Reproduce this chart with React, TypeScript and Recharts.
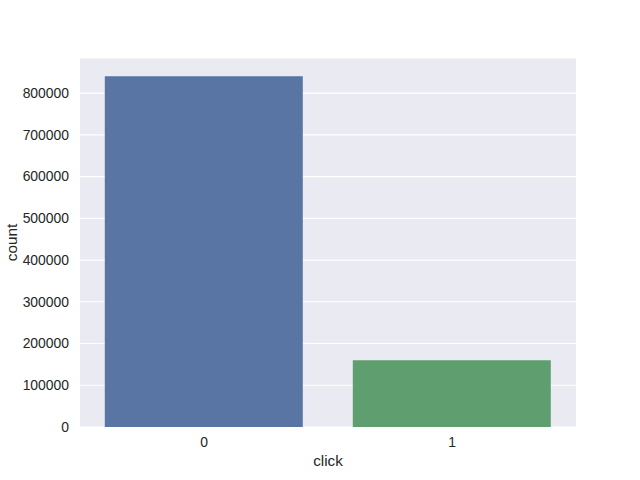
import { BarChart, Bar, XAxis, YAxis, CartesianGrid, Cell } from 'recharts'

const categories = ['0', '1']
const counts = [840300, 159700]
const barColors = ['#5975A4', '#5F9E6E']
const yTicks = [0, 100000, 200000, 300000, 400000, 500000, 600000, 700000, 800000]

const data = categories.map((c, i) => ({ click: c, count: counts[i] }))

const tickStyle = { fontSize: 13.9, fill: '#262626', fontFamily: '"Liberation Sans", Arial, sans-serif' }
const labelStyle = { fontSize: 15.3, fill: '#262626', fontFamily: '"Liberation Sans", Arial, sans-serif' }

export default function App() {
  return (
    <div style={{ position: 'absolute', left: 0, top: 0, width: 640, height: 480, background: '#fff' }}>
      <BarChart
        width={640}
        height={480}
        data={data}
        margin={{ top: 58, right: 64, bottom: 0, left: 0 }}
        barCategoryGap="10%"
      >
        <CartesianGrid vertical={false} stroke="#ffffff" strokeWidth={1.2} fill="#EAEAF2" fillOpacity={1} />
        <XAxis
          dataKey="click"
          height={53}
          axisLine={false}
          tickLine={false}
          tickSize={0}
          tickMargin={10}
          tick={tickStyle}
          label={{ value: 'click', position: 'insideBottom', offset: 14, style: labelStyle }}
        />
        <YAxis
          width={80}
          domain={[0, 884000]}
          ticks={yTicks}
          axisLine={false}
          tickLine={false}
          tickSize={0}
          tickMargin={11}
          tick={tickStyle}
          label={{ value: 'count', angle: -90, position: 'insideLeft', offset: 12, style: { ...labelStyle, textAnchor: 'middle' } }}
        />
        <Bar dataKey="count" isAnimationActive={false}>
          {data.map((d, i) => (
            <Cell key={d.click} fill={barColors[i]} />
          ))}
        </Bar>
      </BarChart>
    </div>
  )
}
